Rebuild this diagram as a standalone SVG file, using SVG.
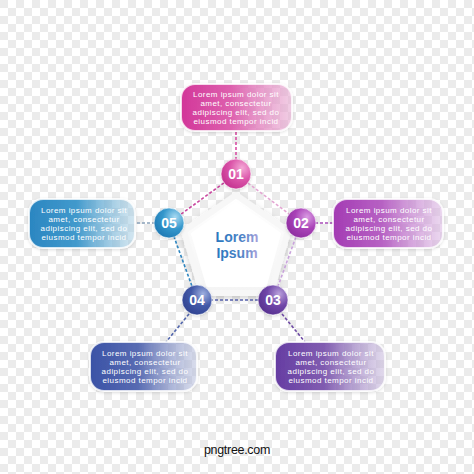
<svg xmlns="http://www.w3.org/2000/svg" width="474" height="474" viewBox="0 0 474 474">
  <defs>
    <pattern id="checker" width="16" height="16" patternUnits="userSpaceOnUse">
      <rect width="16" height="16" fill="#ffffff"/>
      <rect width="8" height="8" fill="#ebebeb"/>
      <rect x="8" y="8" width="8" height="8" fill="#ebebeb"/>
    </pattern>
    <linearGradient id="gPink" x1="0" y1="0" x2="1" y2="0">
      <stop offset="0" stop-color="#d23699"/>
      <stop offset="0.45" stop-color="#dd5aab" stop-opacity="0.95"/>
      <stop offset="1" stop-color="#eeb0d8" stop-opacity="0.55"/>
    </linearGradient>
    <linearGradient id="gTeal" x1="0" y1="0" x2="1" y2="0">
      <stop offset="0" stop-color="#2b86c1"/>
      <stop offset="0.45" stop-color="#3a96cb" stop-opacity="0.95"/>
      <stop offset="1" stop-color="#b4d8ec" stop-opacity="0.5"/>
    </linearGradient>
    <linearGradient id="gViolet" x1="0" y1="0" x2="1" y2="0">
      <stop offset="0" stop-color="#a33ab3"/>
      <stop offset="0.45" stop-color="#b55cc2" stop-opacity="0.95"/>
      <stop offset="1" stop-color="#e2bdea" stop-opacity="0.5"/>
    </linearGradient>
    <linearGradient id="gBlue" x1="0" y1="0" x2="1" y2="0">
      <stop offset="0" stop-color="#3a52a6"/>
      <stop offset="0.45" stop-color="#5165b0" stop-opacity="0.95"/>
      <stop offset="1" stop-color="#c0c7e4" stop-opacity="0.5"/>
    </linearGradient>
    <linearGradient id="gPurple" x1="0" y1="0" x2="1" y2="0">
      <stop offset="0" stop-color="#653ca2"/>
      <stop offset="0.45" stop-color="#7c56ae" stop-opacity="0.95"/>
      <stop offset="1" stop-color="#cfc1e4" stop-opacity="0.5"/>
    </linearGradient>
    <radialGradient id="c1" cx="0.7" cy="0.3" r="0.8">
      <stop offset="0" stop-color="#f4a9d6"/>
      <stop offset="0.5" stop-color="#db55a9"/>
      <stop offset="1" stop-color="#c2308e"/>
    </radialGradient>
    <radialGradient id="c2" cx="0.7" cy="0.3" r="0.8">
      <stop offset="0" stop-color="#d99be3"/>
      <stop offset="0.5" stop-color="#a942b7"/>
      <stop offset="1" stop-color="#8c2c9f"/>
    </radialGradient>
    <radialGradient id="c3" cx="0.7" cy="0.3" r="0.8">
      <stop offset="0" stop-color="#b9a1dc"/>
      <stop offset="0.5" stop-color="#7046a8"/>
      <stop offset="1" stop-color="#552f8e"/>
    </radialGradient>
    <radialGradient id="c4" cx="0.7" cy="0.3" r="0.8">
      <stop offset="0" stop-color="#9fb0e0"/>
      <stop offset="0.5" stop-color="#4359a8"/>
      <stop offset="1" stop-color="#2f4290"/>
    </radialGradient>
    <radialGradient id="c5" cx="0.7" cy="0.3" r="0.8">
      <stop offset="0" stop-color="#a8daf2"/>
      <stop offset="0.5" stop-color="#3497cc"/>
      <stop offset="1" stop-color="#1f78b2"/>
    </radialGradient>
    <linearGradient id="gTitle" x1="0" y1="0" x2="1" y2="0">
      <stop offset="0" stop-color="#2a78bf"/>
      <stop offset="0.6" stop-color="#4a82c6"/>
      <stop offset="1" stop-color="#a7a2dc"/>
    </linearGradient>
    <linearGradient id="gPent" x1="0" y1="0" x2="0" y2="1">
      <stop offset="0" stop-color="#ffffff"/>
      <stop offset="1" stop-color="#f4f4f4"/>
    </linearGradient>
    <filter id="shadow" x="-30%" y="-30%" width="160%" height="160%">
      <feDropShadow dx="0" dy="2" stdDeviation="3" flood-color="#000" flood-opacity="0.18"/>
    </filter>
    <filter id="soft" x="-20%" y="-20%" width="140%" height="140%">
      <feDropShadow dx="0" dy="1" stdDeviation="1.5" flood-color="#000" flood-opacity="0.15"/>
    </filter>
  </defs>
  <style>
    .box { stroke: #ffffff; stroke-opacity: 0.8; stroke-width: 2; }
    .bt { font-family: "Liberation Sans", Arial, sans-serif; font-size: 8px; letter-spacing: 0.45px; fill: #ffffff; text-anchor: middle; }
    .num { font-family: "Liberation Sans", Arial, sans-serif; font-size: 14px; font-weight: bold; fill: #ffffff; text-anchor: middle; }
    .circ { stroke: #ffffff; stroke-opacity: 0.6; stroke-width: 1; }
    .dash { fill: none; stroke-width: 1.6; stroke-dasharray: 3 2; }
    .title { font-family: "Liberation Sans", Arial, sans-serif; font-size: 14px; font-weight: bold; text-anchor: middle; }
  </style>

  <rect width="474" height="474" fill="url(#checker)"/>

  <g id="center">
    <polygon points="236,195 288,231 271,293 202,293 184,231" fill="url(#gPent)" stroke="#f7f7f7" stroke-width="6" stroke-linejoin="round" filter="url(#shadow)"/>
    <polygon points="236,204 279,234 265,285 208,285 193,234" fill="#ffffff" stroke="#ffffff" stroke-width="4" stroke-linejoin="round"/>
    <text class="title" x="237" y="241.5" fill="url(#gTitle)">Lorem</text>
    <text class="title" x="237" y="258" fill="url(#gTitle)">Ipsum</text>
  </g>

  <g id="connectors">
    <line class="dash" x1="236" y1="174" x2="301" y2="223" stroke="#e4a6d3"/>
    <line class="dash" x1="301" y1="223" x2="273" y2="300" stroke="#c9a3dc"/>
    <line class="dash" x1="273" y1="300" x2="197" y2="300" stroke="#5560ab"/>
    <line class="dash" x1="197" y1="300" x2="169" y2="223" stroke="#2f86c0"/>
    <line class="dash" x1="169" y1="223" x2="236" y2="174" stroke="#c9479f"/>
    <line class="dash" x1="236" y1="132" x2="236" y2="160" stroke="#d94fa5"/>
    <line class="dash" x1="315" y1="223" x2="333" y2="223" stroke="#a64bb6"/>
    <line class="dash" x1="137" y1="223" x2="155" y2="223" stroke="#8aa3bb"/>
    <line class="dash" x1="189" y1="314" x2="166" y2="342" stroke="#5266ad"/>
    <line class="dash" x1="282" y1="314" x2="305" y2="342" stroke="#6f4ba5"/>
  </g>

  <g id="box1">
    <rect class="box" x="181" y="84" width="111" height="47" rx="14" fill="url(#gPink)" filter="url(#soft)"/>
    <text class="bt" x="236" y="96.5">Lorem ipsum dolor sit</text>
    <text class="bt" x="236" y="105.8">amet, consectetur</text>
    <text class="bt" x="236" y="115.1">adipiscing elit, sed do</text>
    <text class="bt" x="236" y="124.4">eiusmod tempor incid</text>
  </g>
  <g id="box2">
    <rect class="box" x="333" y="199" width="110" height="49" rx="14" fill="url(#gViolet)" filter="url(#soft)"/>
    <text class="bt" x="389" y="212.5">Lorem ipsum dolor sit</text>
    <text class="bt" x="389" y="221.8">amet, consectetur</text>
    <text class="bt" x="389" y="231.1">adipiscing elit, sed do</text>
    <text class="bt" x="389" y="240.4">eiusmod tempor incid</text>
  </g>
  <g id="box3">
    <rect class="box" x="275" y="342" width="110" height="49" rx="14" fill="url(#gPurple)" filter="url(#soft)"/>
    <text class="bt" x="331" y="355.5">Lorem ipsum dolor sit</text>
    <text class="bt" x="331" y="364.8">amet, consectetur</text>
    <text class="bt" x="331" y="374.1">adipiscing elit, sed do</text>
    <text class="bt" x="331" y="383.4">eiusmod tempor incid</text>
  </g>
  <g id="box4">
    <rect class="box" x="90" y="342" width="107" height="49" rx="14" fill="url(#gBlue)" filter="url(#soft)"/>
    <text class="bt" x="145" y="355.5">Lorem ipsum dolor sit</text>
    <text class="bt" x="145" y="364.8">amet, consectetur</text>
    <text class="bt" x="145" y="374.1">adipiscing elit, sed do</text>
    <text class="bt" x="145" y="383.4">eiusmod tempor incid</text>
  </g>
  <g id="box5">
    <rect class="box" x="29" y="199" width="106" height="49" rx="14" fill="url(#gTeal)" filter="url(#soft)"/>
    <text class="bt" x="84" y="212.5">Lorem ipsum dolor sit</text>
    <text class="bt" x="84" y="221.8">amet, consectetur</text>
    <text class="bt" x="84" y="231.1">adipiscing elit, sed do</text>
    <text class="bt" x="84" y="240.4">eiusmod tempor incid</text>
  </g>

  <g id="node01">
    <circle class="circ" cx="236" cy="174" r="15" fill="url(#c1)" filter="url(#soft)"/>
    <text class="num" x="236" y="179">01</text>
  </g>
  <g id="node02">
    <circle class="circ" cx="301" cy="223" r="15" fill="url(#c2)" filter="url(#soft)"/>
    <text class="num" x="301" y="228">02</text>
  </g>
  <g id="node03">
    <circle class="circ" cx="273" cy="300" r="15" fill="url(#c3)" filter="url(#soft)"/>
    <text class="num" x="273" y="305">03</text>
  </g>
  <g id="node04">
    <circle class="circ" cx="197" cy="300" r="15" fill="url(#c4)" filter="url(#soft)"/>
    <text class="num" x="197" y="305">04</text>
  </g>
  <g id="node05">
    <circle class="circ" cx="169" cy="223" r="15" fill="url(#c5)" filter="url(#soft)"/>
    <text class="num" x="169" y="228">05</text>
  </g>

  <text x="237" y="454" font-family="'Liberation Sans', Arial, sans-serif" font-size="12.5" fill="#111111" text-anchor="middle" letter-spacing="-0.3">pngtree.com</text>
</svg>
